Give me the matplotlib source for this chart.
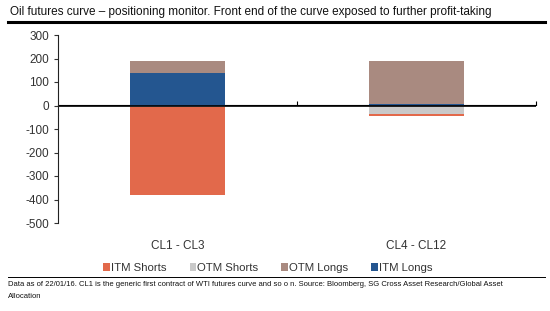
import matplotlib.pyplot as plt
import numpy as np

plt.rcParams["font.family"] = ["Liberation Sans", "DejaVu Sans"]
plt.rcParams["axes.unicode_minus"] = False

categories = ["CL1 - CL3", "CL4 - CL12"]
itm_shorts = [-372, -10]
otm_shorts = [-8, -36]
otm_longs = [50, 182]
itm_longs = [140, 6]

c_itm_s = "#e2694b"
c_otm_s = "#c9c9c9"
c_otm_l = "#a98a80"
c_itm_l = "#245690"

fig = plt.figure(figsize=(5.5, 3.11), dpi=100)
ax = fig.add_axes([58/550, 88/311, 478/550, 188/311])

x = np.arange(len(categories))
w = 0.4
ax.bar(x, otm_shorts, w, color=c_otm_s, label="OTM Shorts")
ax.bar(x, itm_shorts, w, bottom=otm_shorts, color=c_itm_s, label="ITM Shorts")
ax.bar(x, itm_longs, w, color=c_itm_l, label="ITM Longs")
ax.bar(x, otm_longs, w, bottom=itm_longs, color=c_otm_l, label="OTM Longs")

ax.axhline(0, color="black", lw=1.2)
ax.set_xlim(-0.5, 1.5)
ax.set_ylim(-500, 300)
ax.set_yticks(np.arange(-500, 301, 100))
ax.tick_params(axis="y", labelsize=8.5, length=3, colors="#333333", labelcolor="#333333")
ax.set_xticks(x, categories)
ax.tick_params(axis="x", length=0, pad=12, labelsize=8.5, labelcolor="#333333")
for s in ["top", "right", "bottom"]:
    ax.spines[s].set_visible(False)
ax.spines["left"].set_color("#222222")

sec = ax.secondary_xaxis(500/800)
sec.set_xticks([0.5, 1.5], ["", ""])
sec.tick_params(length=3, direction="out")
sec.spines["bottom"].set_visible(False)

h, l = ax.get_legend_handles_labels()
order = ["ITM Shorts", "OTM Shorts", "OTM Longs", "ITM Longs"]
hh = [h[l.index(o)] for o in order]
fig.legend(hh, order, loc="center", bbox_to_anchor=(268/550, 1-268/311), ncol=4,
           frameon=False, fontsize=8.2, handlelength=0.6, handleheight=0.6,
           handletextpad=0.1, columnspacing=2.0, labelcolor="#333333")

fig.text(10/550, 1-12/311, "Oil futures curve \u2013 positioning monitor. Front end of the curve exposed to further profit-taking",
         fontsize=8.5, va="center", ha="left", color="#111111")
fig.add_artist(plt.Line2D([8/550, 545/550], [1-22/311]*2, color="black", lw=2.2))
fig.add_artist(plt.Line2D([8/550, 545/550], [1-277/311]*2, color="black", lw=0.7))
fig.text(8/550, 1-284/311, "Data as of 22/01/16. CL1 is the generic first contract of WTI futures curve and so o n. Source: Bloomberg, SG Cross Asset Research/Global Asset",
         fontsize=5.5, va="center", ha="left", color="#111111")
fig.text(8/550, 1-296/311, "Allocation", fontsize=5.5, va="center", ha="left", color="#111111")

fig.savefig("out.png", dpi=100)
